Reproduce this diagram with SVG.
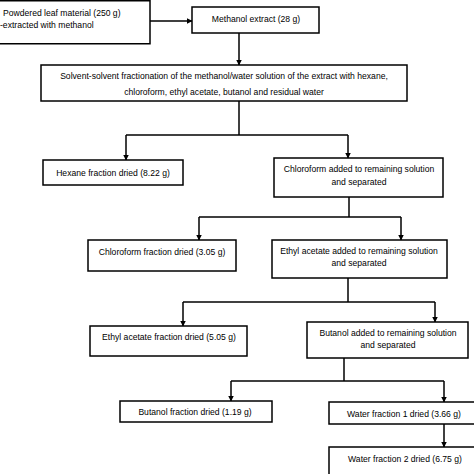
<svg xmlns="http://www.w3.org/2000/svg" width="474" height="474" viewBox="0 0 474 474">
<defs>
<style>
.box{fill:#fff;stroke:#000;stroke-width:1.5}
.t{font-family:"Liberation Sans",Arial,sans-serif;font-size:8.6px;fill:#000;text-anchor:middle;dominant-baseline:central}
.tl{font-family:"Liberation Sans",Arial,sans-serif;font-size:8.6px;fill:#000;dominant-baseline:central}
.c{fill:none;stroke:#000;stroke-width:1.5}
</style>
<marker id="ah" markerUnits="userSpaceOnUse" markerWidth="6" markerHeight="6" refX="5.5" refY="3" orient="auto">
<path d="M0,0 L6,3 L0,6 z" fill="#000"/>
</marker>
</defs>
<rect width="474" height="474" fill="#fff"/>
<g id="connectors">
<line class="c" x1="150" y1="21" x2="192" y2="21" marker-end="url(#ah)"/>
<line class="c" x1="239" y1="33" x2="239" y2="65" marker-end="url(#ah)"/>
<polyline class="c" points="239,101 239,135"/>
<polyline class="c" points="126,135 348,135"/>
<line class="c" x1="126" y1="135" x2="126" y2="160" marker-end="url(#ah)"/>
<line class="c" x1="348" y1="135" x2="348" y2="158" marker-end="url(#ah)"/>
<polyline class="c" points="349,197 349,217"/>
<polyline class="c" points="199,217 401,217"/>
<line class="c" x1="199" y1="217" x2="199" y2="240" marker-end="url(#ah)"/>
<line class="c" x1="401" y1="217" x2="401" y2="240" marker-end="url(#ah)"/>
<polyline class="c" points="348,278 348,302"/>
<polyline class="c" points="183,302 435,302"/>
<line class="c" x1="183" y1="302" x2="183" y2="326" marker-end="url(#ah)"/>
<line class="c" x1="435" y1="302" x2="435" y2="322" marker-end="url(#ah)"/>
<polyline class="c" points="344,358 344,381"/>
<polyline class="c" points="231,381 444,381"/>
<line class="c" x1="231" y1="381" x2="231" y2="401" marker-end="url(#ah)"/>
<line class="c" x1="444" y1="381" x2="444" y2="402" marker-end="url(#ah)"/>
<line class="c" x1="444" y1="424" x2="444" y2="447" marker-end="url(#ah)"/>
</g>
<g id="n1">
<rect class="box" x="-3" y="0.75" width="153" height="43"/>
<text class="tl" x="3" y="13">Powdered leaf material (250 g)</text>
<text class="tl" x="0" y="25">-extracted with methanol</text>
</g>
<g id="n2">
<rect class="box" x="192" y="7" width="127" height="26"/>
<text class="t" x="256" y="18.5">Methanol extract (28 g)</text>
</g>
<g id="n3">
<rect class="box" x="41" y="65" width="366" height="36"/>
<text class="t" x="224" y="76">Solvent-solvent fractionation of the methanol/water solution of the extract with hexane,</text>
<text class="t" x="224" y="92">chloroform, ethyl acetate, butanol and residual water</text>
</g>
<g id="n4">
<rect class="box" x="43" y="160" width="140" height="25"/>
<text class="t" x="113" y="173">Hexane fraction dried (8.22 g)</text>
</g>
<g id="n5">
<rect class="box" x="274" y="158" width="169" height="39"/>
<text class="t" x="359" y="169">Chloroform added to remaining solution</text>
<text class="t" x="359" y="182">and separated</text>
</g>
<g id="n6">
<rect class="box" x="88" y="240" width="148" height="31"/>
<text class="t" x="162" y="252">Chloroform fraction dried (3.05 g)</text>
</g>
<g id="n7">
<rect class="box" x="272" y="240" width="175" height="38"/>
<text class="t" x="359" y="251">Ethyl acetate added to remaining solution</text>
<text class="t" x="359" y="263">and separated</text>
</g>
<g id="n8">
<rect class="box" x="90" y="326" width="157" height="30"/>
<text class="t" x="169" y="337">Ethyl acetate fraction dried (5.05 g)</text>
</g>
<g id="n9">
<rect class="box" x="307" y="322" width="161" height="36"/>
<text class="t" x="388" y="333">Butanol added to remaining solution</text>
<text class="t" x="388" y="345">and separated</text>
</g>
<g id="n10">
<rect class="box" x="120" y="401" width="152" height="21"/>
<text class="t" x="195" y="412">Butanol fraction dried (1.19 g)</text>
</g>
<g id="n11">
<rect class="box" x="329" y="402" width="150" height="22"/>
<text class="t" x="404" y="414">Water fraction 1 dried (3.66 g)</text>
</g>
<g id="n12">
<rect class="box" x="329" y="447" width="150" height="32"/>
<text class="t" x="405" y="459">Water fraction 2 dried (6.75 g)</text>
</g>
</svg>
